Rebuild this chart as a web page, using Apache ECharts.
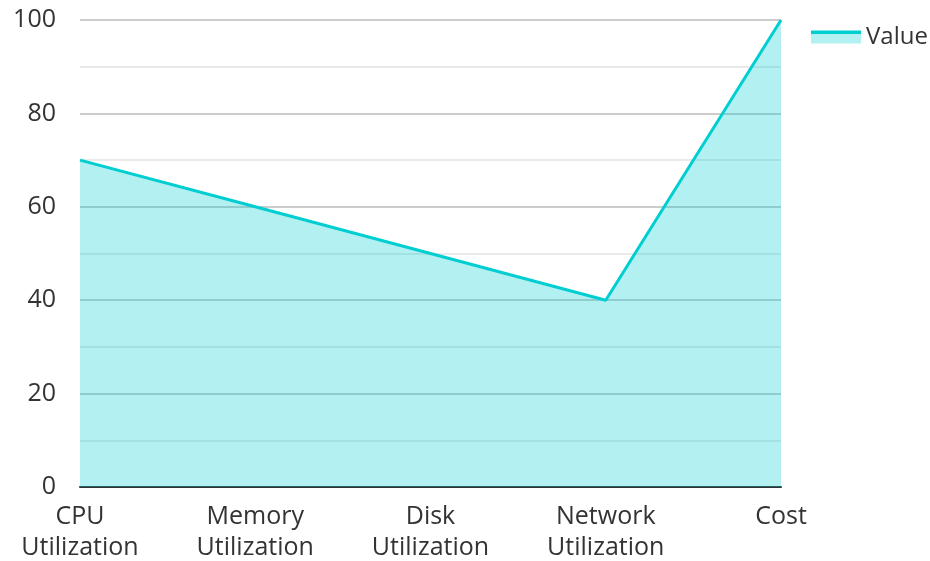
<!DOCTYPE html>
<html><head><meta charset="utf-8">
<script src="https://cdn.jsdelivr.net/npm/echarts@6/dist/echarts.min.js"></script>
<style>html,body{margin:0;padding:0;background:#fff}#c{width:930px;height:561px}</style>
</head><body><div id="c"></div>
<script>
const categories = ["CPU\nUtilization", "Memory\nUtilization", "Disk\nUtilization", "Network\nUtilization", "Cost"];
const values = [70, 60, 50, 40, 100];
const yTicks = {min: 0, max: 100, interval: 20};
const chart = echarts.init(document.getElementById('c'), null, {renderer: 'canvas'});
chart.setOption({
  animation: false,
  textStyle: {fontFamily: 'Open Sans'},
  grid: {left: 80, right: 149, top: 20, bottom: 74, containLabel: false, outerBoundsMode: 'none'},
  legend: {
    data: [{name: 'Value', icon: 'rect', itemStyle: {
      color: {type: 'linear', x: 0, y: 0, x2: 0, y2: 1, colorStops: [
        {offset: 0, color: '#00CED1'}, {offset: 0.28, color: '#00CED1'},
        {offset: 0.28, color: '#B2F0F1'}, {offset: 1, color: '#B2F0F1'}]},
      borderWidth: 0}}],
    left: 806, top: 20, itemWidth: 50, itemHeight: 13, itemGap: 10,
    textStyle: {fontSize: 24, color: '#333', fontFamily: 'Open Sans'}
  },
  xAxis: {
    type: 'category', data: categories, boundaryGap: false,
    axisLine: {lineStyle: {color: '#333', width: 2}},
    axisTick: {show: false},
    axisLabel: {fontSize: 25, color: '#333', lineHeight: 31, margin: 14, fontFamily: 'Open Sans'}
  },
  yAxis: {
    type: 'value', min: yTicks.min, max: yTicks.max, interval: yTicks.interval,
    axisLine: {show: false}, axisTick: {show: false},
    axisLabel: {fontSize: 25, color: '#333', margin: 24, fontFamily: 'Open Sans'},
    splitLine: {lineStyle: {color: '#bbb', width: 1.5}},
    minorTick: {show: false, splitNumber: 2},
    minorSplitLine: {show: true, lineStyle: {color: '#e3e3e3', width: 1.5}}
  },
  series: [{
    name: 'Value', type: 'line', data: values, showSymbol: false, symbol: 'none',
    lineStyle: {color: '#00CED1', width: 3},
    itemStyle: {color: '#00CED1'},
    areaStyle: {color: '#00CED1', opacity: 0.3},
    z: 1
  }]
});
</script></body></html>
